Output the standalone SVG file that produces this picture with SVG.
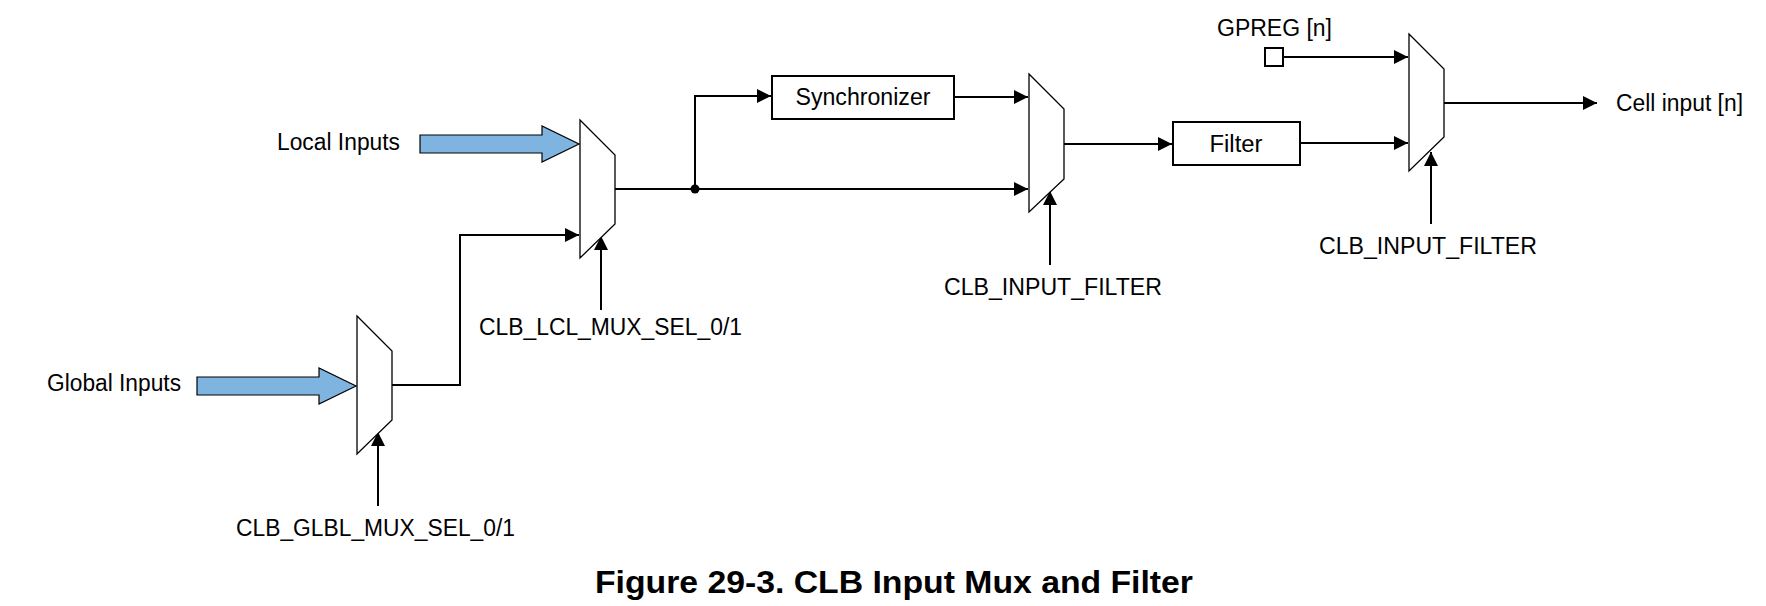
<svg xmlns="http://www.w3.org/2000/svg" width="1766" height="606" viewBox="0 0 1766 606">
<style>
text{font-family:"Liberation Sans",Arial,sans-serif;font-size:23px;fill:#000}
.mux{fill:#fff;stroke:#000;stroke-width:1.3}
.box{fill:#fff;stroke:#000;stroke-width:2}
.w{fill:none;stroke:#000;stroke-width:2}
.big{fill:#80b4e0;stroke:#000;stroke-width:1.2}
</style>
<defs>
<marker id="as" viewBox="0 0 10 10" refX="10" refY="5" markerWidth="14" markerHeight="14" markerUnits="userSpaceOnUse" orient="auto"><path d="M0,0L10,5L0,10z"/></marker>
</defs>
<rect width="1766" height="606" fill="#fff"/>
<g id="conn">
<polyline class="w" points="392,385 460,385 460,235 579,235" marker-end="url(#as)"/>
<line class="w" x1="615" y1="189" x2="1028" y2="189" marker-end="url(#as)"/>
<polyline class="w" points="695,189 695,96 771,96" marker-end="url(#as)"/>
<line class="w" x1="954" y1="97" x2="1028" y2="97" marker-end="url(#as)"/>
<line class="w" x1="1064" y1="144" x2="1172" y2="144" marker-end="url(#as)"/>
<line class="w" x1="1300" y1="143" x2="1408" y2="143" marker-end="url(#as)"/>
<line class="w" x1="1283" y1="57" x2="1408" y2="57" marker-end="url(#as)"/>
<line class="w" x1="1444" y1="103" x2="1597" y2="103" marker-end="url(#as)"/>
<line class="w" x1="601" y1="310" x2="601" y2="236" marker-end="url(#as)"/>
<line class="w" x1="378" y1="506" x2="378" y2="432" marker-end="url(#as)"/>
<line class="w" x1="1050" y1="265" x2="1050" y2="191" marker-end="url(#as)"/>
<line class="w" x1="1431" y1="224" x2="1431" y2="152" marker-end="url(#as)"/>
<circle cx="695" cy="189" r="4.5"/>
</g>
<g id="local-arrow"><polygon class="big" points="420,135 542,135 542,126 579,144 542,162 542,153 420,153"/></g>
<g id="global-arrow"><polygon class="big" points="197,377 319,377 319,368 356,386 319,404 319,395 197,395"/></g>
<g id="mux-global"><polygon class="mux" points="357,316 392,351 392,420 357,454"/></g>
<g id="mux-local"><polygon class="mux" points="580,120 615,155 615,224 580,258"/></g>
<g id="mux-filter"><polygon class="mux" points="1029,74 1064,109 1064,179 1029,212"/></g>
<g id="mux-out"><polygon class="mux" points="1409,34 1444,69 1444,137 1409,171"/></g>
<g id="sync"><rect class="box" x="772" y="76" width="182" height="43"/><text x="863" y="105" text-anchor="middle" textLength="135" lengthAdjust="spacingAndGlyphs">Synchronizer</text></g>
<g id="filter"><rect class="box" x="1173" y="122" width="127" height="43"/><text x="1236" y="152" text-anchor="middle" textLength="53" lengthAdjust="spacingAndGlyphs">Filter</text></g>
<g id="gpreg"><rect x="1265" y="48" width="18" height="18" fill="#fff" stroke="#000" stroke-width="2"/><text x="1217" y="36" textLength="115" lengthAdjust="spacingAndGlyphs">GPREG [n]</text></g>
<g id="labels">
<text x="277" y="150" textLength="123" lengthAdjust="spacingAndGlyphs">Local Inputs</text>
<text x="47" y="391" textLength="134" lengthAdjust="spacingAndGlyphs">Global Inputs</text>
<text x="1616" y="111" textLength="127" lengthAdjust="spacingAndGlyphs">Cell input [n]</text>
<text x="479" y="335" textLength="263" lengthAdjust="spacingAndGlyphs">CLB_LCL_MUX_SEL_0/1</text>
<text x="236" y="536" textLength="279" lengthAdjust="spacingAndGlyphs">CLB_GLBL_MUX_SEL_0/1</text>
<text x="944" y="295" textLength="218" lengthAdjust="spacingAndGlyphs">CLB_INPUT_FILTER</text>
<text x="1319" y="254" textLength="218" lengthAdjust="spacingAndGlyphs">CLB_INPUT_FILTER</text>
<text x="595" y="593" style="font-size:31px;font-weight:bold" textLength="598" lengthAdjust="spacingAndGlyphs">Figure 29-3. CLB Input Mux and Filter</text>
</g>
</svg>
